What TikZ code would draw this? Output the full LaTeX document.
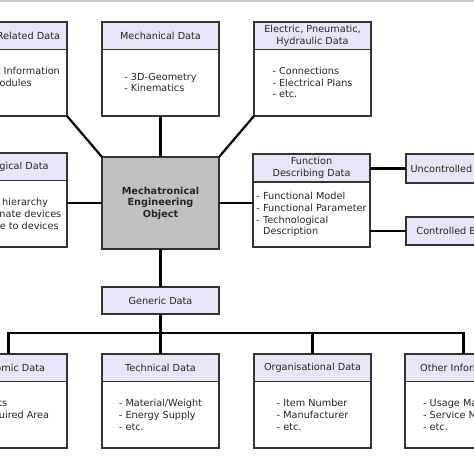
\documentclass[tikz,border=0pt]{standalone}
\usepackage{fontspec}
\setmainfont{DejaVu Sans}
\definecolor{headfill}{HTML}{E6E6F8}
\definecolor{boxline}{HTML}{333333}
\definecolor{centerfill}{HTML}{C0C0C0}
\definecolor{txt}{HTML}{262626}
\definecolor{strip}{HTML}{C8C8C8}
\begin{document}
\begin{tikzpicture}[x=1bp,y=-1bp,
  font=\fontsize{9.7bp}{11.7bp}\selectfont, text=txt,
  box/.style={draw=boxline, line width=1.3bp, fill=white, minimum width=117bp, inner sep=0pt, outer sep=0pt},
  head/.style={draw=boxline, line width=1.3bp, fill=headfill, minimum width=117bp, minimum height=27.5bp, inner sep=0pt, outer sep=0pt, align=center, anchor=north},
  body/.style={align=left, inner sep=0pt},
  conn/.style={line width=2.2bp, black}]
\clip (0,0) rectangle (474,474);
\fill[white] (0,0) rectangle (474,474);
\fill[strip] (0,0) rectangle (474,2.5);

% top row
\node[box, minimum height=94bp] (rel) at (8.5,69) {};
\node[head] (relH) at (rel.north) {Product Related Data};
\node[body] (relB) at (8.5,82.5) {- Product Information\\- Plant Modules\\- etc.};

\node[box, minimum height=94bp] (mech) at (160.5,69) {};
\node[head] (mechH) at (mech.north) {Mechanical Data};
\node[body] (mechB) at (160.5,82.5) {- 3D-Geometry\\- Kinematics};

\node[box, minimum height=94bp] (elec) at (312.5,69) {};
\node[head] (elecH) at (elec.north) {Electric, Pneumatic,\\Hydraulic Data};
\node[body] (elecB) at (312.5,82.5) {- Connections\\- Electrical Plans\\- etc.};

% middle row
\node[box, minimum height=94bp] (topo) at (8.5,200) {};
\node[head] (topoH) at (topo.north) {Topological Data};
\node[body] (topoB) at (8.5,214) {- Product hierarchy\\- Subordinate devices\\- Interface to devices};

\node[box, fill=centerfill, minimum height=92bp, align=center,
  font=\bfseries\fontsize{9.7bp}{11.5bp}\selectfont] (meo) at (160.5,203) {Mechatronical\\Engineering\\Object};

\node[box, minimum height=93bp] (func) at (311.5,200.5) {};
\node[head, minimum height=28bp] (funcH) at (func.north) {Function\\Describing Data};
\node[body] (funcB) at (311.5,214.5) {- Functional Model\\- Functional Parameter\\- Technological\\\phantom{-} Description};

\node[head, anchor=center, minimum height=29bp] (unc) at (464.5,168.5) {Uncontrolled Behavior};
\node[head, anchor=center, minimum height=28bp] (ctrl) at (464.5,231) {Controlled Behavior};

\node[head, anchor=center, minimum height=27bp] (gen) at (160.5,300.5) {Generic Data};

% bottom row
\node[box, minimum height=94bp] (econ) at (8.5,401) {};
\node[head] (econH) at (econ.north) {Economic Data};
\node[body] (econB) at (11.5,415) {- Costs\\- Required Area\\- etc.};

\node[box, minimum height=94bp] (tech) at (160.5,401) {};
\node[head] (techH) at (tech.north) {Technical Data};
\node[body] (techB) at (160.5,415) {- Material/Weight\\- Energy Supply\\- etc.};

\node[box, minimum height=94bp] (org) at (312.5,401) {};
\node[head] (orgH) at (org.north) {Organisational Data};
\node[body] (orgB) at (312.5,415) {- Item Number\\- Manufacturer\\- etc.};

\node[box, minimum height=94bp] (oth) at (463.5,401) {};
\node[head] (othH) at (oth.north) {Other Information};
\node[body] (othB) at (463.5,415) {- Usage Manual\\- Service Manual\\- etc.};

% connectors
\draw[conn] (rel.south east) -- (meo.north west);
\draw[conn] (mech.south) -- (meo.north);
\draw[conn] (elec.south west) -- (meo.north east);
\draw[conn] (meo.west) -- (meo.west -| topo.east);
\draw[conn] (meo.east) -- (meo.east -| func.west);
\draw[conn] (unc.west) -- (unc.west -| func.east);
\draw[conn] (ctrl.west) -- (ctrl.west -| func.east);
\draw[conn] (meo.south) -- (gen.north);
\coordinate (busL) at (8.5,333);
\coordinate (busR) at (463.5,333);
\draw[conn] (gen.south) -- (tech.north);
\draw[conn] (econH.north) -- (busL) -- (busR) -- (othH.north);
\draw[conn] (orgH.north) -- (orgH.north |- busL);
\end{tikzpicture}
\end{document}
